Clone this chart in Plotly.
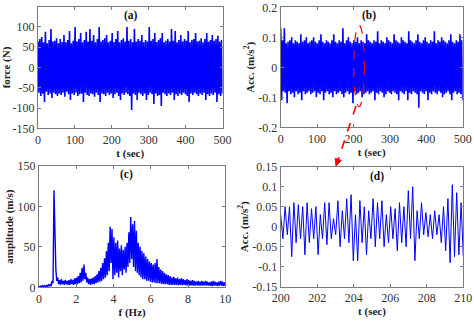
import numpy as np
import plotly.graph_objects as go

# ---------------- data ----------------
# (a) force time history: upper and lower extremes, alternating samples
force_upper = [65, 70, 75, 62, 88, 60, 68, 95, 64, 66,
               72, 60, 70, 63, 80, 62, 68, 90, 60, 66,
               100, 64, 70, 85, 62, 68, 88, 64, 95, 66,
               80, 62, 70, 100, 64, 68, 72, 80, 62, 66,
               85, 63, 70, 90, 62, 68, 72, 64, 100, 66,
               70, 62, 95, 64, 70, 66, 80, 62, 68, 64,
               100, 66, 70, 85, 63, 68, 72, 85, 62, 66,
               70, 64, 95, 66, 90, 62, 68, 80, 64, 70,
               66, 90, 62, 68, 70, 85, 64, 66, 72, 62,
               70, 85, 64, 68, 80, 66, 70, 78, 64, 68]
force_lower = [-62, -70, -65, -85, -60, -68, -64, -75, -62, -66,
               -70, -64, -68, -62, -72, -60, -66, -80, -64, -68,
               -62, -70, -66, -64, -85, -62, -68, -70, -64, -66,
               -72, -62, -68, -85, -64, -66, -70, -62, -68, -64,
               -75, -66, -62, -70, -80, -64, -68, -62, -66, -70,
               -105, -64, -68, -80, -62, -66, -70, -64, -80, -68,
               -62, -66, -90, -64, -70, -68, -95, -62, -66, -70,
               -64, -68, -62, -80, -66, -70, -64, -68, -62, -66,
               -70, -85, -64, -68, -62, -66, -70, -64, -68, -62,
               -80, -66, -70, -64, -68, -62, -85, -66, -70, -64]

# (b) acceleration time history
acc_upper = [0.13, 0.09, 0.13, 0.08, 0.085, 0.09, 0.1, 0.08, 0.09, 0.085,
             0.08, 0.11, 0.085, 0.09, 0.1, 0.08, 0.085, 0.09, 0.1, 0.085,
             0.08, 0.09, 0.11, 0.085, 0.08, 0.09, 0.085, 0.08, 0.09, 0.11,
             0.085, 0.08, 0.09, 0.085, 0.13, 0.08, 0.09, 0.1, 0.085, 0.08,
             0.09, 0.085, 0.1, 0.08, 0.09, 0.085, 0.08, 0.11, 0.09, 0.085,
             0.08, 0.09, 0.085, 0.12, 0.08, 0.09, 0.085, 0.08, 0.1, 0.09,
             0.085, 0.08, 0.11, 0.09, 0.085, 0.08, 0.1, 0.09, 0.085, 0.08,
             0.12, 0.09, 0.085, 0.08, 0.09, 0.11, 0.085, 0.08, 0.09, 0.1,
             0.085, 0.08, 0.09, 0.085, 0.12, 0.08, 0.09, 0.085, 0.1, 0.09,
             0.085, 0.08, 0.09, 0.11, 0.085, 0.08, 0.09, 0.085, 0.11, 0.09]
acc_lower = [-0.11, -0.08, -0.085, -0.12, -0.08, -0.09, -0.085, -0.1, -0.08, -0.09,
             -0.085, -0.11, -0.08, -0.09, -0.085, -0.08, -0.09, -0.085, -0.08, -0.1,
             -0.085, -0.09, -0.08, -0.11, -0.085, -0.08, -0.09, -0.085, -0.1, -0.08,
             -0.09, -0.085, -0.08, -0.09, -0.1, -0.085, -0.08, -0.09, -0.085, -0.12,
             -0.08, -0.09, -0.085, -0.08, -0.1, -0.09, -0.085, -0.08, -0.09, -0.085,
             -0.08, -0.11, -0.085, -0.09, -0.08, -0.085, -0.1, -0.09, -0.08, -0.085,
             -0.09, -0.08, -0.085, -0.09, -0.11, -0.08, -0.085, -0.09, -0.08, -0.11,
             -0.085, -0.09, -0.08, -0.085, -0.09, -0.135, -0.08, -0.085, -0.09, -0.08,
             -0.11, -0.085, -0.09, -0.08, -0.085, -0.09, -0.08, -0.085, -0.1, -0.09,
             -0.085, -0.08, -0.09, -0.11, -0.085, -0.08, -0.09, -0.085, -0.09, -0.11]

# (c) amplitude spectrum
spec_upper = [1, 1.5, 2, 2, 2.5, 3, 4, 8, 120, 22,
              12, 9, 10, 8, 9, 8, 9, 10, 9, 11,
              12, 14, 18, 24, 28, 18, 12, 10, 11, 12,
              14, 16, 20, 24, 30, 36, 45, 55, 75, 72,
              62, 55, 58, 48, 52, 46, 50, 55, 68, 87,
              78, 82, 70, 55, 50, 45, 42, 38, 35, 32,
              30, 28, 30, 35, 25, 22, 20, 18, 16, 15,
              14, 12, 13, 11, 12, 10, 11, 10, 9, 10,
              9, 8, 9, 8, 7, 8, 7, 8, 7, 8,
              7, 6, 7, 8, 7, 6, 7, 8, 7, 6]
spec_lower = [0.5, 0.5, 0.8, 1, 1, 1.2, 1.5, 5, 40, 8,
              4, 3, 4, 3, 4, 3, 3, 4, 3, 4,
              4, 5, 6, 8, 10, 6, 4, 3, 4, 4,
              5, 6, 7, 8, 10, 12, 15, 20, 30, 10,
              15, 18, 12, 20, 15, 22, 18, 25, 30, 35,
              25, 20, 18, 15, 12, 10, 10, 8, 8, 7,
              6, 6, 5, 5, 5, 4, 4, 4, 4, 3,
              3, 3, 3, 3, 2.5, 3, 2.5, 3, 2.5, 2.5,
              2, 2.5, 2, 2, 2.5, 2, 2, 2, 2.5, 2,
              2, 2, 1.5, 2, 2, 1.5, 2, 2, 1.5, 2]

# (d) zoomed acceleration 200-210 s
zoom_acc = [0.03, -0.03, 0.05, -0.02, 0.05, -0.075, 0.06, -0.04, 0.055, -0.03,
            0.05, -0.07, 0.06, -0.04, 0.045, -0.03, 0.05, -0.07, 0.03, -0.03,
            0.06, -0.045, 0.06, -0.03, 0.02, -0.02, 0.065, -0.05, 0.04, -0.03,
            0.07, -0.04, 0.08, -0.085, 0.03, -0.085, 0.065, -0.04, 0.05, -0.07,
            0.04, -0.03, 0.07, -0.05, 0.06, -0.03, 0.065, -0.05, 0.03, -0.04,
            0.05, -0.03, 0.045, -0.06, 0.06, -0.04, 0.05, -0.05, 0.09, -0.03,
            0.1, -0.085, 0.04, -0.03, 0.06, -0.02, 0.035, -0.025, 0.03, -0.03,
            0.04, -0.02, 0.03, -0.04, 0.05, -0.06, 0.07, -0.09, 0.105, -0.075,
            0.085, -0.07, 0.06, -0.075]

ticks_a_x = [0, 100, 200, 300, 400, 500]
ticks_a_y = [-150, -100, -50, 0, 50, 100, 150]
ticks_a_y_text = ["-150", "-100", "-50", "0", "50", "100", "150"]
ticks_b_y = [-0.2, -0.1, 0, 0.1, 0.2]
ticks_b_y_text = ["-0.2", "-0.1", "0", "0.1", "0.2"]
ticks_c_x = [0, 2, 4, 6, 8, 10]
ticks_c_y = [0, 50, 100, 150]
ticks_d_x = [200, 202, 204, 206, 208, 210]
ticks_d_y = [-0.15, -0.1, -0.05, 0, 0.05, 0.1, 0.15]
ticks_d_y_text = ["-0.15", "-0.1", "-0.05", "0", "0.05", "0.1", "0.15"]


def interleave(u, l):
    out = []
    for a, b in zip(u, l):
        out += [a, b]
    return out


force = interleave(force_upper, force_lower)
acc = interleave(acc_upper, acc_lower)
spec = interleave(spec_upper, spec_lower)
t_ab = np.linspace(0, 500, len(force))
f_c = np.linspace(0, 10, len(spec))
t_d = np.linspace(200, 210, len(zoom_acc))

# ---------------- figure ----------------
W, H = 474, 322
SERIF = "Liberation Serif"
BLUE = "#0000FF"
AXC = "#7a7a7a"

fig = go.Figure()
fig.add_trace(go.Scatter(x=t_ab, y=force, mode="lines", line=dict(color=BLUE, width=1.6),
                         xaxis="x", yaxis="y", showlegend=False))
fig.add_trace(go.Scatter(x=t_ab, y=acc, mode="lines", line=dict(color=BLUE, width=1.6),
                         xaxis="x2", yaxis="y2", showlegend=False))
fig.add_trace(go.Scatter(x=f_c, y=spec, mode="lines", line=dict(color=BLUE, width=1.4),
                         xaxis="x3", yaxis="y3", showlegend=False))
fig.add_trace(go.Scatter(x=t_d, y=zoom_acc, mode="lines", line=dict(color=BLUE, width=1),
                         xaxis="x4", yaxis="y4", showlegend=False))


def px_dom(a, b, total, flip=False):
    if flip:
        return [1 - b / total, 1 - a / total]
    return [a / total, b / total]


def axis(dom, anchor, rng, tv, tt=None, title="", standoff=3):
    d = dict(domain=dom, anchor=anchor, range=rng, tickmode="array", tickvals=tv,
             automargin=False,
             showline=True, linecolor=AXC, linewidth=1, mirror="ticks",
             ticks="inside", ticklen=3, tickcolor=AXC, showgrid=False, zeroline=False,
             tickfont=dict(family=SERIF, size=12, color="#333333"),
             title=dict(text=title, standoff=standoff,
                        font=dict(family=SERIF, size=11, color="#222222", weight="bold")))
    if tt is not None:
        d["ticktext"] = tt
    return d


fig.update_layout(
    width=W, height=H, margin=dict(l=0, r=0, t=0, b=0, autoexpand=False),
    paper_bgcolor="white", plot_bgcolor="white", showlegend=False,
    xaxis=axis(px_dom(38, 222.5, W), "y", [0, 500], ticks_a_x, title="t (sec)"),
    yaxis=axis(px_dom(6.7, 128.3, H, True), "x", [-150, 150], ticks_a_y, ticks_a_y_text,
               title="force (N)", standoff=1),
    xaxis2=axis(px_dom(280.7, 462.7, W), "y2", [0, 500], ticks_a_x, title="t (sec)"),
    yaxis2=axis(px_dom(7.3, 127.3, H, True), "x2", [-0.2, 0.2], ticks_b_y, ticks_b_y_text,
                title="Acc. (m/s<sup>2</sup>)", standoff=1),
    xaxis3=axis(px_dom(39, 225.3, W), "y3", [0, 10], ticks_c_x, title="f (Hz)"),
    yaxis3=axis(px_dom(166, 287.3, H, True), "x3", [0, 150], ticks_c_y,
                title="amplitude (m/s)", standoff=1),
    xaxis4=axis(px_dom(280.7, 463.3, W), "y4", [200, 210], ticks_d_x, title="t (sec)"),
    yaxis4=axis(px_dom(166.7, 286.7, H, True), "x4", [-0.15, 0.15], ticks_d_y, ticks_d_y_text,
                title="Acc. (m/s<sup>2</sup>)", standoff=1),
)

# panel labels
labels = [("(a)", "x", "y", 0.504, 0.93), ("(b)", "x2", "y2", 0.485, 0.93),
          ("(c)", "x3", "y3", 0.47, 0.926), ("(d)", "x4", "y4", 0.527, 0.917)]
for txt, xr, yr, xd, yd in labels:
    fig.add_annotation(text=txt, xref=xr + " domain", yref=yr + " domain", x=xd, y=yd,
                       showarrow=False, xanchor="center", yanchor="middle",
                       font=dict(family=SERIF, size=11.5, color="#111111", weight="bold"))

# red dashed ellipse marking the zoomed window in (b)
fig.add_shape(type="circle", xref="x2", yref="y2", x0=200.5, x1=229.7, y0=-0.131, y1=0.141,
              line=dict(color="red", width=1.2, dash="dash"))

# red dashed arrow from (b) to (d), in pixel positions converted to paper
tail = (356.0, 106.0)
tip = (336.0, 166.0)
dx, dy = tip[0] - tail[0], tip[1] - tail[1]
L = (dx * dx + dy * dy) ** 0.5
ux, uy = dx / L, dy / L
hl, hw = 7.0, 3.2
base = (tip[0] - hl * ux, tip[1] - hl * uy)
c1 = (base[0] + hw * (-uy), base[1] + hw * ux)
c2 = (base[0] - hw * (-uy), base[1] - hw * ux)


def P(p):
    return p[0] / W, 1 - p[1] / H


fig.add_shape(type="line", xref="paper", yref="paper",
              x0=P(tail)[0], y0=P(tail)[1], x1=P(base)[0], y1=P(base)[1],
              line=dict(color="red", width=1.6, dash="dash"))
path = "M {} {} L {} {} L {} {} Z".format(*P(tip), *P(c1), *P(c2))
fig.add_shape(type="path", xref="paper", yref="paper", path=path,
              fillcolor="red", line=dict(color="red", width=1))

fig.write_html("out.html")
